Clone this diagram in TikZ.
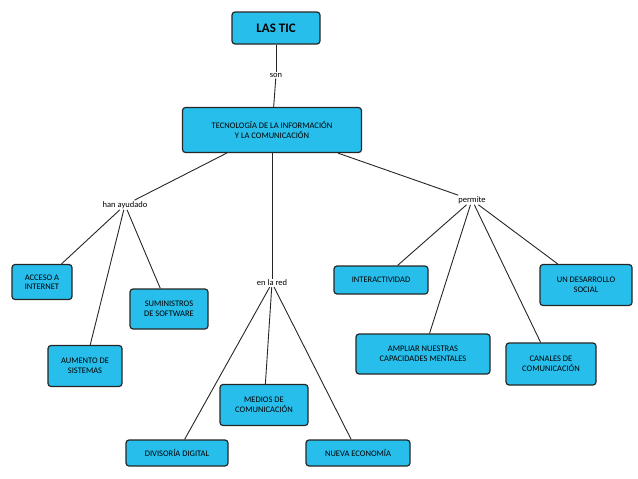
\documentclass[tikz,border=0pt]{standalone}
\usepackage{fontspec}
\setmainfont{Carlito}
\begin{document}
\begin{tikzpicture}[x=1pt,y=-1pt,
 box/.style={draw=black!85,line width=1.2pt,fill={rgb,255:red,40;green,190;blue,235},rounded corners=3pt,align=center,font=\fontsize{8.5}{9.5}\selectfont,inner sep=3pt},
 lab/.style={font=\fontsize{8.5}{9}\selectfont,inner sep=1pt,fill=white},
 ln/.style={draw=black!85,line width=0.9pt}]
\useasboundingbox (0,0) rectangle (638,479);
\node[box,minimum width=88pt,minimum height=32pt,font=\bfseries\fontsize{13}{14}\selectfont] (tic) at (276,28) {LAS TIC};
\node[lab] (son) at (276,75) {son};
\node[box,minimum width=179pt,minimum height=45pt] (tec) at (272,130) {TECNOLOGÍA DE LA INFORMACIÓN\\Y LA COMUNICACIÓN};
\node[lab] (han) at (125,205) {han ayudado};
\node[lab] (per) at (472,200) {permite};
\node[lab] (red) at (272,283) {en la red};
\node[box,minimum width=60pt,minimum height=35pt,align=left] (acc) at (42,282) {ACCESO A\\INTERNET};
\node[box,minimum width=78pt,minimum height=40pt] (sum) at (169,309) {SUMINISTROS\\DE SOFTWARE};
\node[box,minimum width=74pt,minimum height=41pt] (aum) at (85,366) {AUMENTO DE\\SISTEMAS};
\node[box,minimum width=88pt,minimum height=41pt] (med) at (264,405) {MEDIOS DE\\COMUNICACIÓN};
\node[box,minimum width=102pt,minimum height=26pt] (div) at (177,453) {DIVISORÍA DIGITAL};
\node[box,minimum width=104pt,minimum height=26pt] (nue) at (358,453) {NUEVA ECONOMÍA};
\node[box,minimum width=94pt,minimum height=28pt] (int) at (381,280) {INTERACTIVIDAD};
\node[box,minimum width=92pt,minimum height=41pt] (des) at (586,285) {UN DESARROLLO\\SOCIAL};
\node[box,minimum width=134pt,minimum height=40pt] (amp) at (423,354) {AMPLIAR NUESTRAS\\CAPACIDADES MENTALES};
\node[box,minimum width=90pt,minimum height=42pt] (can) at (551,364) {CANALES DE\\COMUNICACIÓN};
\draw[ln] (tic) -- (son); \draw[ln] (son) -- (tec);
\draw[ln] (tec) -- (han); \draw[ln] (tec) -- (per); \draw[ln] (tec) -- (red);
\foreach \t in {acc,sum,aum} \draw[ln] (han) -- (\t);
\foreach \t in {med,div,nue} \draw[ln] (red) -- (\t);
\foreach \t in {int,des,amp,can} \draw[ln] (per) -- (\t);
\end{tikzpicture}
\end{document}
